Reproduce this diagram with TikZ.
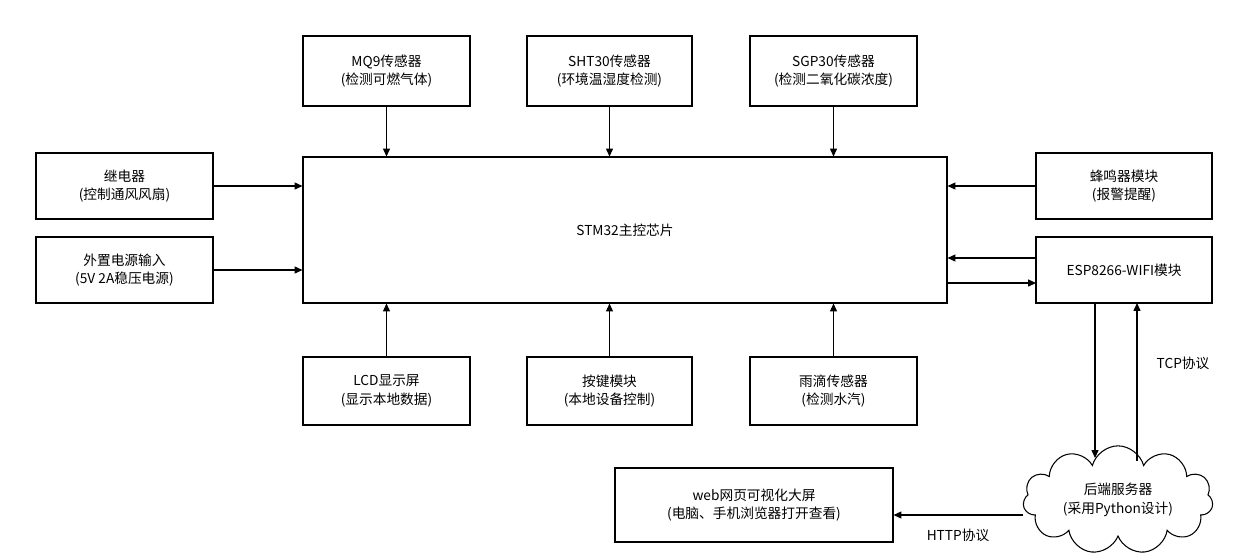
\documentclass[tikz,border=0pt]{standalone}
\usepackage{fontspec}
\setmainfont{Noto Sans CJK SC}
\usetikzlibrary{shapes.symbols,arrows.meta}
\begin{document}
\begin{tikzpicture}[x=0.02cm,y=-0.02cm,
  box/.style={draw,line width=0.6pt,align=center,font=\fontsize{7.8}{10.5}\selectfont,inner sep=0pt},
  arr/.style={-{Triangle[length=4.5pt,width=4pt]},line width=0.6pt},
  lab/.style={font=\fontsize{7.8}{10.5}\selectfont}]
\useasboundingbox[fill=white] (0,0) rectangle (1244,555);
\newcommand{\bx}[6]{\node[box,minimum width=#4*0.02cm,minimum height=#5*0.02cm] (#1) at (#2,#3) {#6};}
\bx{main}{625}{230}{644}{146}{STM32主控芯片}
\bx{mq}{386.5}{71}{167}{70}{MQ9传感器\\(检测可燃气体)}
\bx{sht}{609.5}{71}{165}{70}{SHT30传感器\\(环境温湿度检测)}
\bx{sgp}{833.5}{71}{167}{70}{SGP30传感器\\(检测二氧化碳浓度)}
\bx{relay}{124.5}{186}{177}{66}{继电器\\(控制通风风扇)}
\bx{pwr}{124.5}{270}{177}{66}{外置电源输入\\(5V 2A稳压电源)}
\bx{buz}{1124}{186}{176}{66}{蜂鸣器模块\\(报警提醒)}
\bx{esp}{1124}{270}{176}{66}{ESP8266-WIFI模块}
\bx{lcd}{386.5}{391}{167}{68}{LCD显示屏\\(显示本地数据)}
\bx{key}{609.5}{391}{165}{68}{按键模块\\(本地设备控制)}
\bx{rain}{833.5}{391}{167}{68}{雨滴传感器\\(检测水汽)}
\bx{web}{754}{505}{278}{74}{web网页可视化大屏\\(电脑、手机浏览器打开查看)}
\node[cloud,draw,line width=0.6pt,cloud puffs=11,aspect=2,minimum width=190*0.02cm,minimum height=88*0.02cm,font=\fontsize{7.8}{10.5}\selectfont,align=center,inner sep=0pt] (cl) at (1118,500) {后端服务器\\(采用Python设计)};
\draw[arr] (mq) -- (mq|-main.north);
\draw[arr] (sht) -- (sht|-main.north);
\draw[arr] (sgp) -- (sgp|-main.north);
\draw[arr] (lcd) -- (lcd|-main.south);
\draw[arr] (key) -- (key|-main.south);
\draw[arr] (rain) -- (rain|-main.south);
\draw[arr] (relay.east) -- (relay.east-|main.west);
\draw[arr] (pwr.east) -- (pwr.east-|main.west);
\draw[arr] (buz.west) -- (buz.west-|main.east);
\coordinate (e1) at (1036,258); \coordinate (e2) at (1036,283);
\draw[arr] (e1) -- (e1-|main.east);
\draw[arr] (e2-|main.east) -- (e2);
\coordinate (d1) at (1095,303); \coordinate (d2) at (1095,458);
\coordinate (u1) at (1137,461); \coordinate (u2) at (1137,303);
\draw[arr] (d1) -- (d2);
\draw[arr] (u1) -- (u2);
\node[lab] (tcp) at (1183,363) {TCP协议};
\coordinate (c1) at (1023,515);
\draw[arr] (c1) -- (c1-|web.east);
\node[lab] (http) at (958,535) {HTTP协议};
\end{tikzpicture}
\end{document}
